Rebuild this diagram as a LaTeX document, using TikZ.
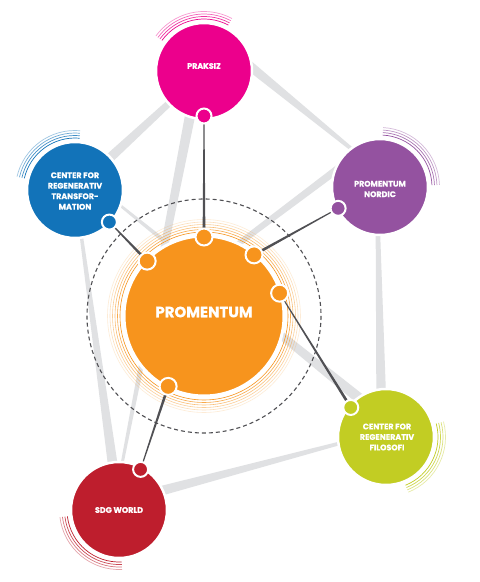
\documentclass[tikz,border=0pt]{standalone}
\usepackage{fontspec}
\newfontfamily\pop{Poppins}[BoldFeatures={FakeBold=0.6}]
\usetikzlibrary{calc}
\pgfdeclarelayer{bg}
\pgfdeclarelayer{mid}
\pgfsetlayers{bg,mid,main}
\definecolor{cpink}{RGB}{236,0,140}
\definecolor{cblue}{RGB}{18,115,185}
\definecolor{cpurple}{RGB}{148,82,160}
\definecolor{cgreen}{RGB}{194,205,35}
\definecolor{cred}{RGB}{190,30,45}
\definecolor{corange}{RGB}{247,148,29}
\definecolor{cband}{RGB}{224,225,227}
\definecolor{cline}{RGB}{80,80,84}
\tikzset{
  big/.style={circle, inner sep=0pt, minimum size=96pt, draw=white, line width=2.5pt},
  lbl/.style={text=white, font=\pop\bfseries\fontsize{8}{10.5}\selectfont, align=center, inner sep=0pt},
  sdot/.style={circle, inner sep=0pt, minimum size=15pt, draw=white, line width=2pt},
  odot/.style={circle, inner sep=0pt, minimum size=17pt, draw=white, line width=2pt},
  ringarc/.style={line width=0.7pt},
}
% tapered band between two points: #1 colour, #2 start, #3 end, #4 half width at start, #5 half width at end
\newcommand\taperband[5]{\fill[#1] ($#2!#4!90:#3$) -- ($#3!#5!-90:#2$) -- ($#3!#5!90:#2$) -- ($#2!#4!-90:#3$) -- cycle;}
% arcs: #1 node, #2 start angle, #3 end angle, #4 colour
\newcommand\ringarcs[4]{\foreach \rr/\oo in {52/1,54.5/0.8,57/0.6,59.5/0.4}{\draw[ringarc,#4,opacity=\oo] (#1.center) ++(#2:\rr) arc[start angle=#2, end angle=#3, radius=\rr];}}
\begin{document}
\begin{tikzpicture}[x=1pt,y=-1pt]
\useasboundingbox (0,0) rectangle (480,582);

% outer nodes
\node[big, fill=cpink] (prak) at (204,71) {};
\node[big, fill=cblue] (blue) at (75,190) {};
\node[big, fill=cpurple] (purple) at (380,187) {};
\node[big, fill=cgreen] (green) at (386,437) {};
\node[big, fill=cred] (red) at (119,510) {};

\node[lbl] (prakT) at (204,66) {PRAKSIZ};
\node[lbl] (blueT) at (75,191) {CENTER FOR\\REGENERATIV\\TRANSFOR-\\MATION};
\node[lbl] (purpleT) at (380,189) {PROMENTUM\\NORDIC};
\node[lbl] (greenT) at (387,437) {CENTER FOR\\REGENERATIV\\FILOSOFI};
\node[lbl] (redT) at (119,510) {SDG WORLD};

% arcs
\ringarcs{prak}{-62}{-144}{cpink}
\ringarcs{blue}{-85}{-167}{cblue}
\ringarcs{purple}{-2}{-87}{cpurple}
\ringarcs{green}{68}{-15}{cgreen}
\ringarcs{red}{87}{173}{cred}

% central node
\node[circle, inner sep=0pt, minimum size=160pt, fill=corange, draw=white, line width=3pt] (prom) at (204,316) {};
\node[lbl, font=\pop\bfseries\fontsize{15}{17}\selectfont] (promT) at (204,312) {PROMENTUM};

% dots
\node[odot, fill=corange] (o1) at ($(prom.center)+(-136:79)$) {};
\node[odot, fill=corange] (o2) at ($(prom.center)+(-90:79)$) {};
\node[odot, fill=corange] (o3) at ($(prom.center)+(-50.7:79)$) {};
\node[odot, fill=corange] (o4) at ($(prom.center)+(-16.8:79)$) {};
\node[odot, fill=corange] (o5) at ($(prom.center)+(117:79)$) {};
\node[sdot, fill=cpink] (pd) at ($(prak.center)+(90:45)$) {};
\node[sdot, fill=cblue] (bd) at ($(blue.center)+(43:47)$) {};
\node[sdot, fill=cpurple] (ud) at ($(purple.center)+(153:47)$) {};
\node[sdot, fill=cgreen] (gd) at ($(green.center)+(220:46)$) {};
\node[sdot, fill=cred] (rd) at ($(red.center)+(-62:46)$) {};

\begin{pgfonlayer}{mid}
  \foreach \rr/\oo in {84/1,86.5/0.8,89/0.6,91.5/0.45,94/0.3,96.5/0.18}{\draw[corange, opacity=\oo, line width=0.6pt] (prom.center) circle[radius=\rr];}
  \draw[cline, line width=1.1pt, dash pattern=on 4pt off 3pt] (prom.center) circle[radius=117];
  \taperband{cline}{(pd.center)}{(o2.center)}{0.5pt}{1.4pt}
  \taperband{cline}{(bd.center)}{(o1.center)}{0.5pt}{1.4pt}
  \taperband{cline}{(ud.center)}{(o3.center)}{0.5pt}{1.4pt}
  \taperband{cline}{(gd.center)}{(o4.center)}{1.4pt}{0.5pt}
  \taperband{cline}{(rd.center)}{(o5.center)}{0.5pt}{1.4pt}
\end{pgfonlayer}

\begin{pgfonlayer}{bg}
  \fill[white] (0,0) rectangle (480,582);
  \taperband{cband}{(prak.center)}{(blue.center)}{2.5pt}{5.5pt}
  \taperband{cband}{($(prak.center)+(36,-13)$)}{($(purple.center)+(-15,-27)$)}{5pt}{1.5pt}
  \taperband{cband}{($(prak.center)+(-6,4)$)}{($(red.center)+(-5,-5)$)}{5.5pt}{1pt}
  \taperband{cband}{(blue.center)}{(red.center)}{1pt}{5.5pt}
  \taperband{cband}{($(blue.center)+(15,-9)$)}{($(green.center)+(-11,-26)$)}{0.8pt}{5.5pt}
  \taperband{cband}{($(purple.center)+(-3,0)$)}{($(green.center)+(-4,0)$)}{1.5pt}{5.5pt}
  \taperband{cband}{($(red.center)+(0,-8)$)}{($(green.center)+(0,-6)$)}{5.5pt}{1pt}
  \taperband{cband}{($(purple.center)+(-25,-31)$)}{($(prom.center)+(1,-47)$)}{4pt}{2.5pt}
\end{pgfonlayer}
\end{tikzpicture}
\end{document}
